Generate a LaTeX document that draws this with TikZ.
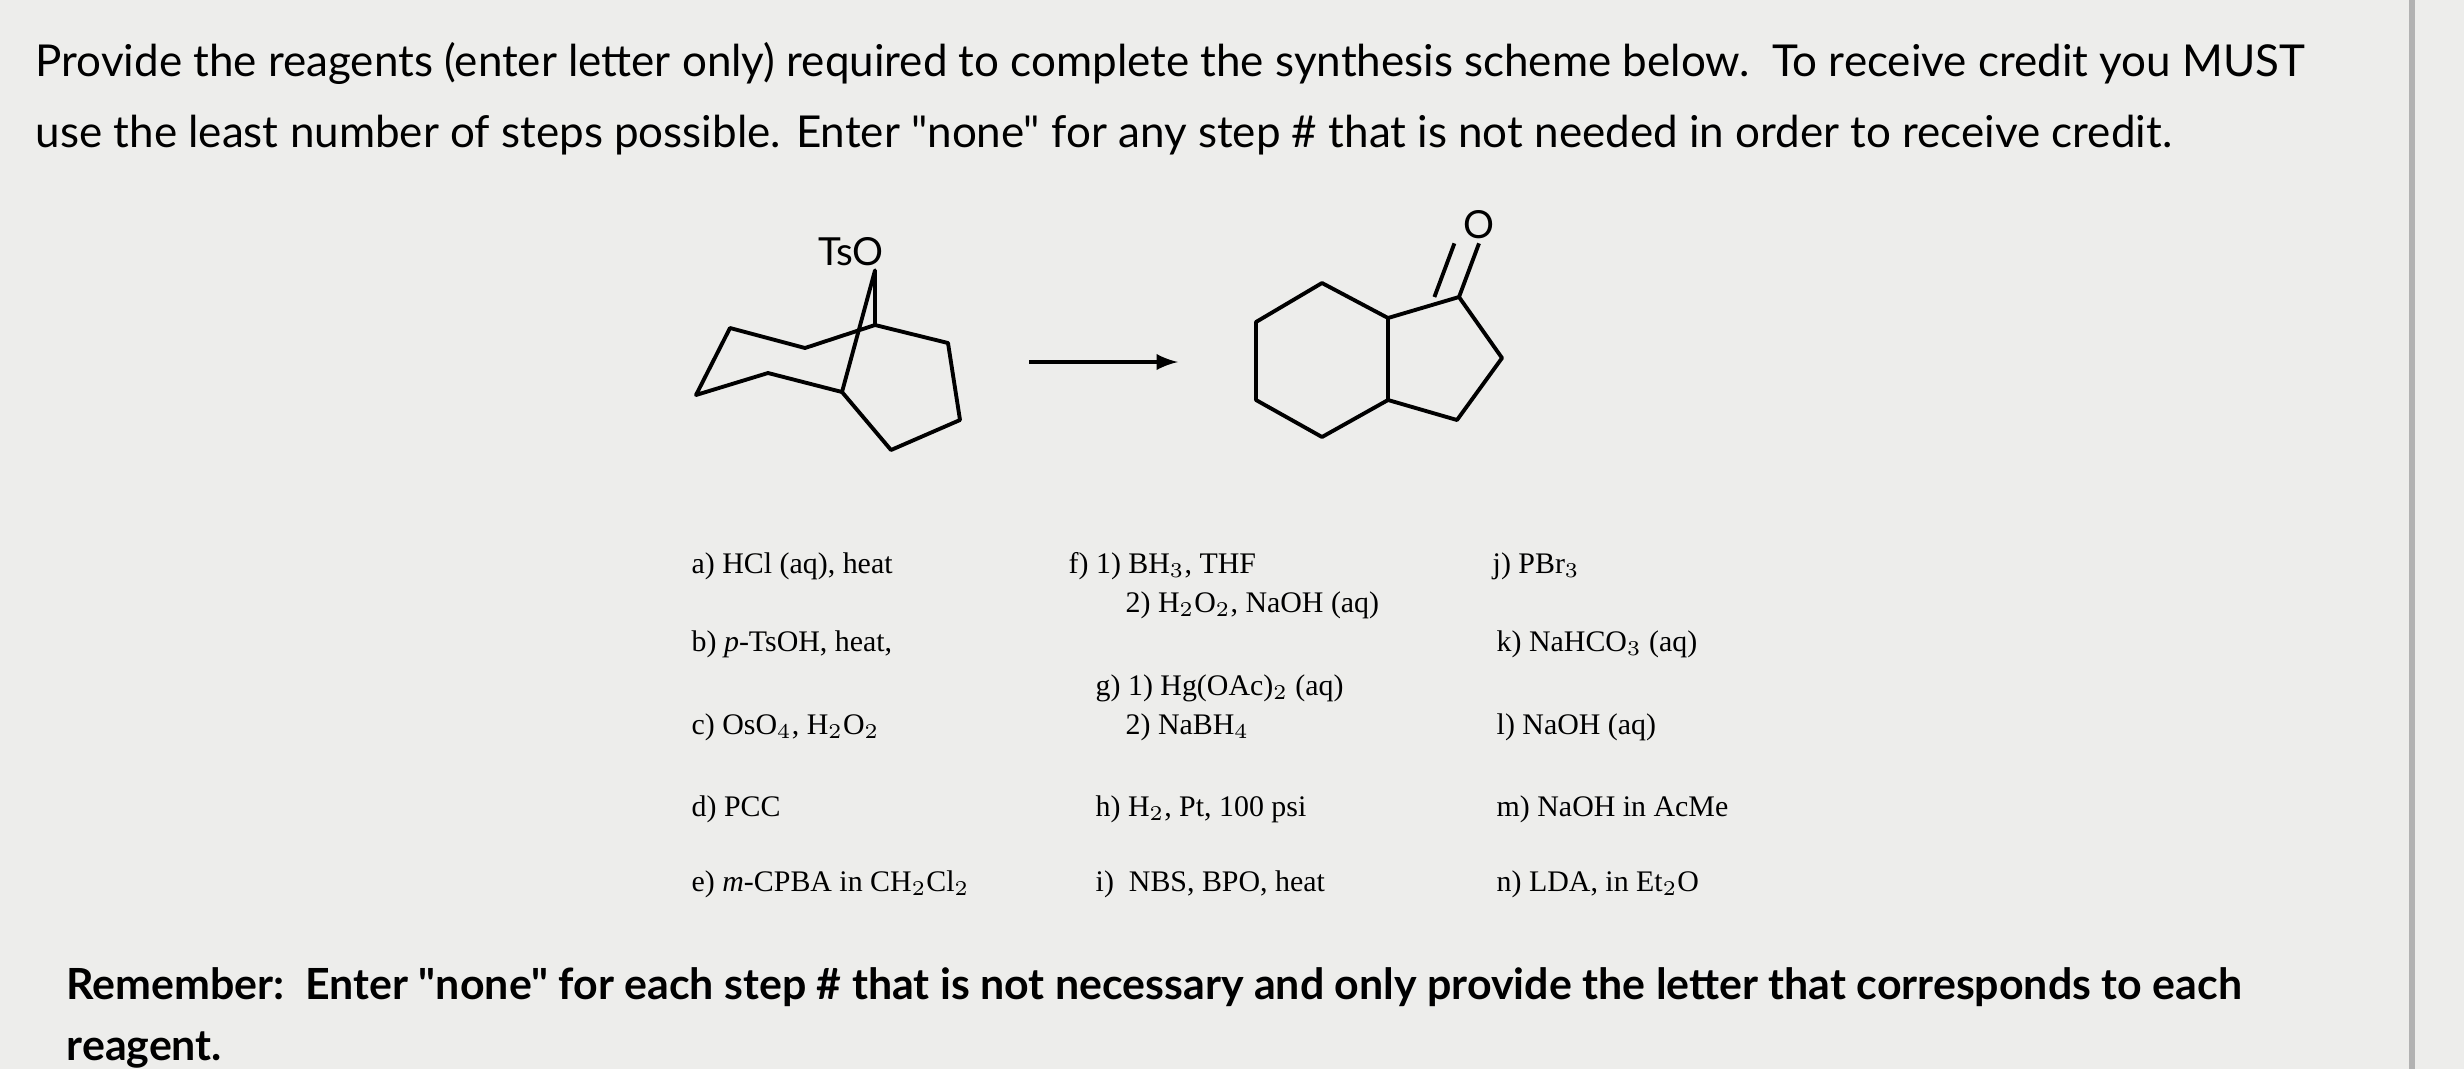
\documentclass[tikz,border=0pt]{standalone}
\usepackage{fontspec}
\setmainfont{Liberation Serif}
\newfontfamily\headfont{Lato}
\definecolor{paper}{rgb}{0.93,0.93,0.92}
\begin{document}
\begin{tikzpicture}[x=0.01cm,y=-0.01cm,
  bond/.style={line width=1.1pt, line join=round},
  head/.style={anchor=west, inner sep=0, font=\headfont\fontsize{12.5}{15}\selectfont},
  reag/.style={anchor=west, inner sep=0, font=\fontsize{8.5}{10}\selectfont}]

% page
\useasboundingbox (0,0) rectangle (2464,1069);
\fill[paper] (0,0) rectangle (2464,1069);
\draw[gray!60, line width=1.5pt] (2412,0) -- (2412,1069);

% question
\node[head] (q1) at (35,63) {Provide the reagents (enter letter only) required to complete the synthesis scheme below.\ \ To receive credit you MUST};
\node[head] (q2) at (35,135) {use the least number of steps possible. Enter "none" for any step \# that is not needed in order to receive credit.};

% starting material
\node[font=\headfont\fontsize{11}{13}\selectfont, inner sep=1pt] (TsO) at (851,252) {TsO};
\coordinate (c1) at (875,325);
\coordinate (c2) at (842,392);
\draw[bond] (TsO.south -| c1) -- (c1) -- (805,348) -- (730,328) -- (696,395) -- (768,373) -- (c2) -- cycle;
\draw[bond] (c1) -- (948,343) -- (960,420) -- (891,450) -- (c2);

% arrow
\coordinate (a1) at (1029,362);
\coordinate (a2) at (1178,362);
\draw[line width=1.1pt, -latex] (a1) -- (a2);

% product
\coordinate (p1) at (1388,318);
\coordinate (p2) at (1388,400);
\coordinate (co) at (1459,297);
\node[font=\headfont\fontsize{11}{13}\selectfont, inner sep=1pt] (O) at (1479,225) {O};
\draw[bond] (p1) -- (1322,283) -- (1256,322) -- (1256,400) -- (1322,437) -- (p2) -- cycle;
\draw[bond] (p1) -- (co) -- (1502,358) -- (1457,420) -- (p2);
\draw[bond] (co) -- (O.south);
\draw[bond] ([xshift=-7]co) -- ([xshift=-7]O.south);

% reagents
\node[reag] (ra) at (691,566) {a) HCl (aq), heat};
\node[reag] (rb) at (691,644) {b) \emph{p}-TsOH, heat,};
\node[reag] (rc) at (691,727) {c) OsO$_4$, H$_2$O$_2$};
\node[reag] (rd) at (691,809) {d) PCC};
\node[reag] (re) at (691,884) {e) \emph{m}-CPBA in CH$_2$Cl$_2$};
\node[reag] (rf) at (1068,566) {f) 1) BH$_3$, THF};
\node[reag] (rf2) at (1125,605) {2) H$_2$O$_2$, NaOH (aq)};
\node[reag] (rg) at (1095,688) {g) 1) Hg(OAc)$_2$ (aq)};
\node[reag] (rg2) at (1125,727) {2) NaBH$_4$};
\node[reag] (rh) at (1095,809) {h) H$_2$, Pt, 100 psi};
\node[reag] (ri) at (1095,884) {i)\ \ NBS, BPO, heat};
\node[reag] (rj) at (1492,566) {j) PBr$_3$};
\node[reag] (rk) at (1496,644) {k) NaHCO$_3$ (aq)};
\node[reag] (rl) at (1496,727) {l) NaOH (aq)};
\node[reag] (rm) at (1496,809) {m) NaOH in AcMe};
\node[reag] (rn) at (1496,884) {n) LDA, in Et$_2$O};

% reminder
\node[head, font=\headfont\bfseries\fontsize{12.2}{15}\selectfont] (r1) at (66,987) {Remember:\ \ Enter "none" for each step \# that is not necessary and only provide the letter that corresponds to each};
\node[head, font=\headfont\bfseries\fontsize{12.2}{15}\selectfont] (r2) at (66,1050) {reagent.};
\end{tikzpicture}
\end{document}
